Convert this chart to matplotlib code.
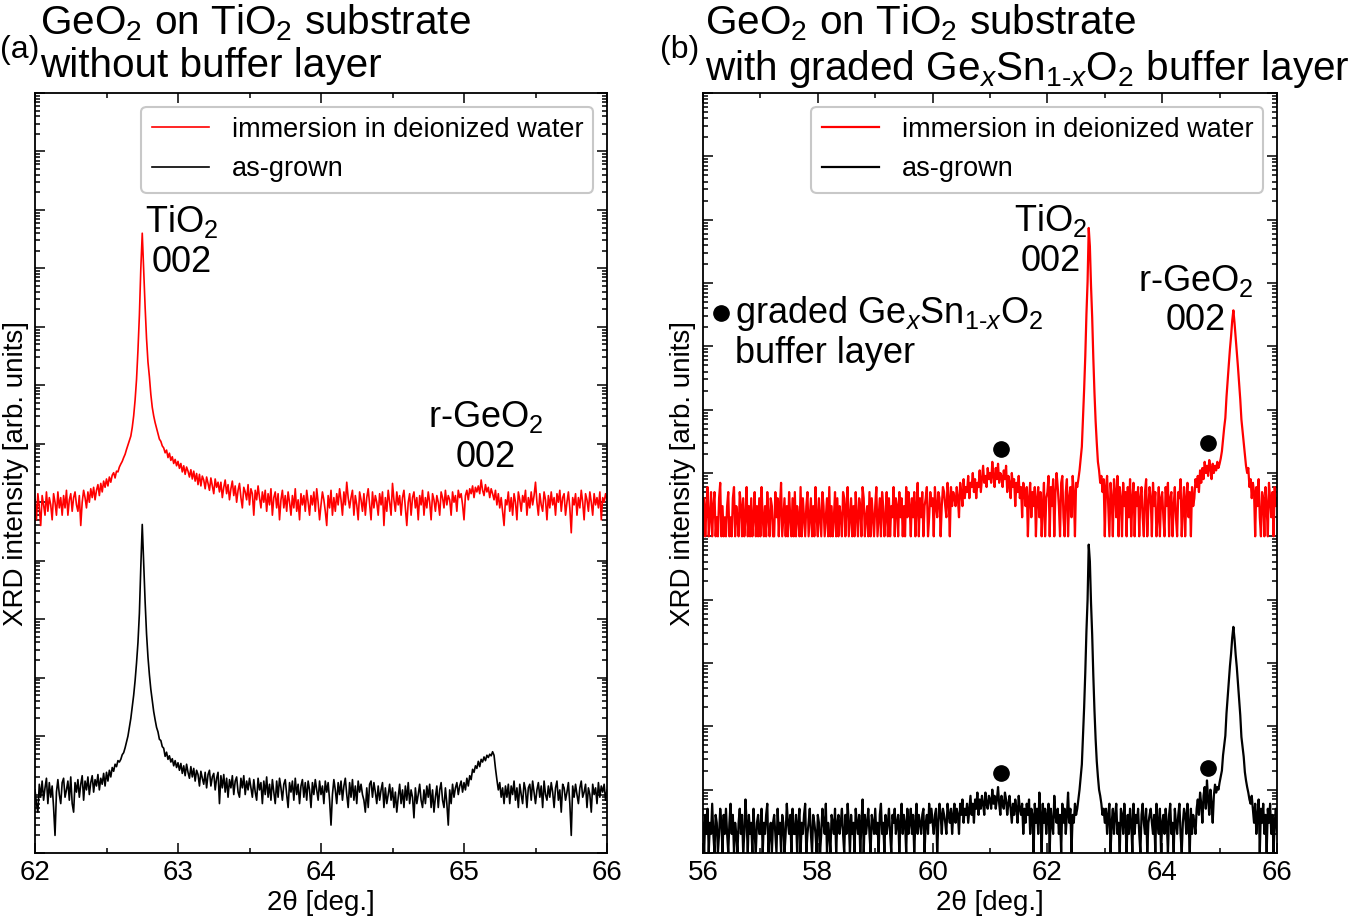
import numpy as np
import matplotlib
matplotlib.use("Agg")
import matplotlib.pyplot as plt
from matplotlib.ticker import LogLocator, NullFormatter, MultipleLocator

# ---- data (counts) ----
# (a) 2theta 62.00 ... 66.00 deg, step 0.01
as_grown_a = [
    12, 7, 5, 15, 9, 17, 8, 13, 19, 7,
    16, 9, 14, 6, 2, 11, 18, 10, 7, 16,
    19, 9, 12, 17, 8, 20, 7, 5, 16, 11,
    18, 9, 15, 21, 8, 17, 12, 20, 10, 16,
    21, 11, 18, 14, 22, 12, 19, 15, 23, 14,
    24, 17, 26, 20, 29, 25, 33, 30, 38, 36,
    40, 48, 52, 63, 79, 100, 141, 200, 316, 500,
    890, 1780, 3980, 12600, 79400, 417000, 89100, 20000, 5620, 2240,
    1120, 630, 400, 263, 190, 141, 118, 88, 84, 66,
    62, 45, 53, 40, 46, 36, 41, 31, 38, 29,
    35, 26, 34, 23, 31, 21, 33, 24, 19, 30,
    20, 28, 17, 26, 22, 14, 25, 19, 15, 24,
    13, 22, 26, 14, 20, 23, 12, 19, 24, 7,
    21, 13, 22, 11, 19, 9, 18, 13, 21, 10,
    17, 20, 11, 9, 19, 13, 21, 10, 17, 12,
    19, 13, 9, 18, 11, 8, 19, 12, 16, 7,
    17, 10, 20, 9, 15, 8, 18, 11, 7, 17,
    9, 19, 13, 8, 15, 18, 10, 6, 16, 11,
    17, 8, 19, 10, 15, 7, 14, 18, 9, 16,
    8, 17, 12, 6, 16, 10, 18, 12, 8, 17,
    10, 14, 7, 17, 11, 16, 8, 3, 10, 18,
    12, 7, 16, 10, 17, 8, 14, 19, 10, 6,
    16, 9, 18, 8, 14, 7, 17, 11, 15, 10,
    8, 5, 13, 6, 15, 17, 9, 16, 11, 7,
    14, 8, 12, 16, 6, 13, 7, 10, 15, 8,
    13, 6, 11, 5, 9, 15, 7, 12, 6, 14,
    8, 16, 7, 12, 9, 4, 13, 7, 10, 15,
    8, 6, 12, 7, 14, 9, 15, 6, 12, 5,
    9, 14, 6, 12, 16, 8, 6, 13, 7, 3,
    12, 7, 15, 9, 13, 16, 10, 14, 17, 11,
    16, 12, 19, 14, 21, 18, 27, 24, 31, 28,
    37, 30, 40, 36, 44, 38, 47, 43, 49, 46,
    54, 47, 28, 18, 12, 16, 9, 13, 7, 14,
    9, 15, 7, 14, 10, 17, 8, 13, 6, 15,
    10, 7, 16, 12, 6, 13, 15, 8, 17, 11,
    7, 12, 16, 9, 14, 6, 17, 10, 8, 14,
    9, 16, 11, 6, 13, 17, 8, 12, 5, 15,
    13, 8, 11, 16, 7, 2, 14, 9, 15, 10,
    7, 13, 17, 9, 11, 15, 6, 13, 10, 5,
    15, 10, 13, 7, 16, 9, 14, 11, 15, 8,
    12,
]

immersed_a = [
    11, 5, 14, 8, 4, 13, 9, 6, 15, 7,
    12, 9, 5, 14, 10, 6, 15, 8, 12, 6,
    13, 8, 16, 6, 11, 14, 7, 12, 15, 9,
    7, 13, 4, 10, 16, 12, 8, 15, 10, 17,
    12, 18, 11, 16, 20, 13, 21, 15, 23, 18,
    25, 19, 27, 22, 29, 32, 26, 34, 33, 40,
    45, 50, 58, 66, 80, 95, 112, 135, 190, 300,
    560, 1260, 3980, 15800, 100000, 400000, 95000, 22000, 6300, 2500,
    1400, 700, 420, 300, 230, 185, 150, 120, 110, 92,
    85, 70, 78, 58, 69, 52, 60, 46, 54, 42,
    50, 38, 46, 33, 42, 30, 40, 34, 27, 36,
    25, 34, 23, 31, 20, 30, 19, 28, 24, 17,
    27, 21, 16, 26, 19, 14, 25, 18, 22, 15,
    22, 12, 18, 24, 14, 20, 11, 17, 23, 13,
    19, 10, 16, 21, 12, 8, 18, 15, 11, 20,
    9, 17, 14, 6, 16, 11, 19, 12, 8, 15,
    10, 16, 7, 14, 9, 17, 6, 12, 15, 8,
    14, 5, 11, 16, 8, 13, 7, 15, 10, 6,
    13, 8, 17, 7, 11, 5, 14, 9, 13, 7,
    16, 10, 6, 13, 9, 15, 7, 17, 10, 5,
    9, 15, 11, 7, 4, 13, 8, 16, 6, 12,
    7, 14, 9, 17, 11, 6, 15, 9, 22, 12,
    8, 12, 16, 6, 13, 9, 5, 15, 11, 7,
    14, 6, 12, 17, 9, 5, 15, 8, 13, 10,
    6, 14, 9, 15, 4, 12, 7, 16, 10, 6,
    21, 11, 7, 15, 9, 13, 6, 12, 16, 8,
    4, 10, 14, 6, 12, 15, 8, 12, 5, 13,
    9, 16, 6, 12, 8, 15, 10, 5, 14, 11,
    7, 13, 10, 6, 15, 12, 8, 16, 9, 13,
    11, 6, 15, 10, 13, 7, 16, 12, 14, 9,
    5, 13, 16, 11, 17, 14, 19, 12, 18, 15,
    19, 14, 24, 16, 13, 20, 15, 18, 12, 17,
    14, 11, 16, 9, 14, 8, 12, 7, 4, 11,
    9, 15, 7, 12, 6, 14, 10, 5, 15, 11,
    7, 13, 10, 16, 6, 12, 8, 15, 9, 13,
    22, 10, 6, 14, 9, 7, 15, 11, 5, 13,
    8, 15, 9, 12, 6, 14, 10, 16, 7, 12,
    14, 6, 10, 15, 8, 3, 12, 9, 14, 6,
    12, 8, 16, 10, 5, 14, 11, 7, 15, 10,
    6, 14, 9, 12, 8, 15, 5, 12, 10, 14,
    11,
]

# (b) 2theta 56.00 ... 66.00 deg, step 0.02
as_grown_b = [
    3, 1, 4, 2, 5, 1, 3, 2, 6, 2,
    1, 4, 3, 1, 2, 5, 3, 1, 4, 2,
    5, 2, 1, 3, 6, 2, 4, 1, 3, 2,
    1, 3, 5, 2, 4, 1, 2, 7, 3, 1,
    4, 2, 3, 1, 5, 2, 1, 3, 4, 2,
    2, 5, 1, 3, 2, 4, 6, 1, 2, 3,
    1, 3, 4, 2, 1, 5, 2, 3, 1, 4,
    3, 1, 2, 6, 3, 2, 4, 1, 5, 2,
    2, 4, 1, 3, 5, 1, 3, 2, 4, 6,
    1, 2, 3, 5, 2, 1, 4, 3, 2, 1,
    4, 3, 1, 2, 5, 3, 2, 6, 1, 3,
    2, 1, 4, 3, 2, 5, 1, 3, 4, 2,
    3, 5, 2, 1, 4, 2, 6, 3, 1, 4,
    2, 3, 1, 5, 3, 2, 4, 1, 3, 7,
    1, 4, 2, 3, 5, 2, 1, 4, 3, 2,
    5, 2, 3, 1, 4, 6, 2, 3, 1, 4,
    2, 3, 5, 2, 1, 4, 3, 5, 2, 3,
    4, 1, 3, 6, 2, 4, 3, 1, 5, 2,
    3, 5, 2, 4, 1, 3, 6, 2, 4, 3,
    2, 4, 5, 1, 3, 4, 2, 6, 3, 5,
    3, 2, 4, 5, 1, 3, 6, 4, 2, 5,
    4, 3, 2, 6, 4, 3, 5, 2, 4, 6,
    3, 5, 4, 2, 6, 4, 7, 3, 5, 4,
    6, 3, 5, 8, 4, 6, 3, 7, 5, 9,
    4, 7, 5, 8, 6, 4, 9, 6, 5, 8,
    7, 5, 10, 6, 8, 5, 7, 11, 6, 4,
    8, 6, 5, 9, 7, 4, 6, 8, 5, 3,
    6, 4, 7, 5, 3, 8, 5, 4, 6, 2,
    5, 3, 6, 4, 7, 2, 5, 4, 1, 6,
    3, 5, 2, 9, 4, 1, 6, 3, 5, 2,
    4, 6, 1, 5, 3, 2, 8, 4, 3, 5,
    2, 4, 1, 6, 3, 5, 2, 4, 9, 3,
    5, 1, 4, 3, 6, 4, 5, 7, 10, 16,
    25, 71, 200, 710, 3160, 10000, 74000, 40000, 8900, 2820,
    630, 178, 63, 28, 16, 10, 8, 6, 4, 5,
    3, 5, 2, 4, 6, 1, 3, 5, 2, 4,
    6, 2, 3, 1, 5, 4, 2, 6, 3, 1,
    4, 2, 5, 3, 1, 6, 2, 4, 3, 5,
    2, 1, 4, 6, 3, 2, 5, 1, 3, 4,
    5, 3, 2, 4, 1, 6, 3, 2, 5, 1,
    3, 4, 2, 5, 3, 1, 4, 6, 2, 3,
    1, 5, 3, 2, 4, 6, 2, 1, 3, 5,
    4, 2, 6, 3, 1, 5, 2, 4, 3, 2,
    5, 7, 4, 9, 6, 3, 8, 11, 5, 14,
    7, 4, 10, 6, 3, 8, 12, 9, 11, 10,
    13, 16, 20, 35, 50, 71, 160, 280, 500, 890,
    1410, 2510, 3720, 2400, 1350, 850, 480, 270, 150, 68,
    48, 33, 19, 14, 11, 9, 7, 6, 8, 5,
    3, 6, 2, 4, 7, 1, 5, 3, 6, 2,
    4, 1, 5, 3, 6, 2, 4, 1, 3, 5,
    2,
]

immersed_b = [
    1, 4, 1, 3, 6, 1, 2, 5, 1, 3,
    5, 1, 2, 1, 4, 7, 1, 3, 1, 2,
    1, 3, 5, 1, 2, 1, 4, 6, 1, 3,
    2, 1, 5, 3, 1, 4, 1, 2, 6, 1,
    3, 1, 4, 1, 2, 5, 1, 3, 1, 4,
    1, 6, 2, 1, 3, 1, 5, 2, 1, 4,
    3, 1, 1, 5, 2, 4, 1, 3, 7, 1,
    2, 4, 1, 3, 1, 5, 2, 1, 4, 1,
    5, 1, 3, 2, 1, 6, 1, 4, 2, 1,
    3, 5, 1, 2, 4, 1, 3, 1, 6, 2,
    1, 4, 2, 1, 5, 3, 1, 2, 4, 1,
    6, 1, 3, 1, 2, 5, 1, 4, 1, 3,
    2, 1, 5, 4, 1, 3, 6, 1, 2, 4,
    1, 3, 1, 5, 2, 1, 4, 3, 1, 6,
    4, 1, 2, 3, 1, 5, 1, 4, 2, 1,
    3, 6, 1, 2, 4, 1, 5, 3, 1, 2,
    5, 1, 4, 1, 3, 2, 6, 1, 4, 3,
    1, 5, 2, 4, 1, 3, 1, 6, 2, 5,
    3, 1, 4, 2, 5, 1, 3, 7, 1, 4,
    2, 5, 1, 3, 4, 6, 1, 2, 5, 3,
    4, 1, 6, 3, 2, 5, 4, 1, 3, 6,
    5, 3, 2, 7, 4, 1, 6, 3, 5, 4,
    3, 6, 4, 2, 7, 5, 3, 8, 4, 6,
    5, 9, 4, 7, 6, 10, 5, 8, 4, 7,
    6, 11, 5, 8, 13, 7, 9, 6, 12, 8,
    10, 7, 15, 9, 6, 12, 8, 14, 7, 10,
    9, 6, 11, 8, 13, 5, 9, 7, 4, 10,
    6, 8, 3, 7, 5, 9, 4, 6, 2, 7,
    5, 3, 6, 1, 4, 7, 2, 5, 3, 6,
    1, 4, 6, 2, 5, 1, 3, 7, 1, 4,
    5, 9, 1, 6, 3, 8, 1, 5, 10, 6,
    3, 1, 7, 9, 2, 1, 5, 8, 1, 4,
    6, 2, 9, 5, 1, 7, 6, 8, 11, 17,
    26, 75, 210, 700, 3200, 10500, 74000, 38000, 9000, 2900,
    650, 185, 66, 30, 15, 11, 7, 9, 5, 8,
    1, 6, 9, 3, 1, 7, 4, 1, 8, 5,
    2, 9, 1, 6, 4, 1, 7, 3, 5, 1,
    6, 2, 8, 1, 4, 7, 1, 5, 3, 6,
    1, 4, 6, 2, 1, 5, 8, 1, 3, 6,
    4, 1, 7, 3, 5, 1, 2, 6, 1, 4,
    5, 2, 1, 6, 3, 7, 1, 4, 5, 1,
    3, 6, 2, 1, 5, 4, 8, 1, 3, 6,
    1, 4, 7, 2, 5, 1, 6, 3, 4, 8,
    6, 9, 5, 11, 7, 12, 8, 15, 10, 13,
    9, 16, 12, 8, 14, 10, 13, 11, 15, 12,
    14, 17, 22, 34, 52, 74, 158, 290, 510, 900,
    1450, 2550, 3700, 2350, 1380, 830, 470, 260, 145, 70,
    46, 31, 20, 13, 10, 12, 6, 8, 4, 7,
    5, 1, 6, 3, 8, 2, 1, 5, 4, 1,
    6, 3, 1, 7, 4, 2, 5, 1, 6, 3,
    4,
]

two_theta_a = np.linspace(62.0, 66.0, len(as_grown_a))
two_theta_b = np.linspace(56.0, 66.0, len(as_grown_b))

# buffer-layer peak marks in (b): 2theta, as-grown level, immersed level
buffer_marks_x = [61.2, 64.8]
buffer_marks_grown = [18, 22]
buffer_marks_immersed = [24, 30]

offset = 1e5  # vertical shift of the immersed curve

# ---- style ----
plt.rcParams["font.family"] = ["Liberation Sans", "DejaVu Sans"]
plt.rcParams["mathtext.fontset"] = "custom"
plt.rcParams["mathtext.rm"] = "Liberation Sans"
plt.rcParams["mathtext.it"] = "Liberation Sans:italic"
plt.rcParams["mathtext.default"] = "regular"

RED = "#ff0000"
TICK_FS = 20
ANN_FS = 26
TITLE_FS = 29.2

fig = plt.figure(figsize=(13.48, 9.17), dpi=100)
ax_a = fig.add_axes([35 / 1348, 64 / 917, 572 / 1348, 760 / 917])
ax_b = fig.add_axes([703 / 1348, 64 / 917, 574 / 1348, 760 / 917])


def style_axes(ax, xlim, ylim, major, minor, label_x):
    ax.set_yscale("log")
    ax.set_xlim(*xlim)
    ax.set_ylim(*ylim)
    ax.xaxis.set_major_locator(MultipleLocator(major))
    ax.xaxis.set_minor_locator(MultipleLocator(minor))
    ax.yaxis.set_major_locator(LogLocator(base=10, numticks=30))
    ax.yaxis.set_minor_locator(LogLocator(base=10, subs=np.arange(2, 10), numticks=300))
    ax.yaxis.set_major_formatter(NullFormatter())
    ax.yaxis.set_minor_formatter(NullFormatter())
    ax.tick_params(which="both", direction="in", top=True, right=True,
                   labelsize=TICK_FS, width=1.1)
    ax.tick_params(which="major", length=7, pad=5)
    ax.tick_params(which="minor", length=3.5)
    for s in ax.spines.values():
        s.set_linewidth(1.3)
    ax.set_xlabel("2θ [deg.]", fontsize=TICK_FS, labelpad=3)
    ax.set_ylabel("XRD intensity [arb. units]", fontsize=TICK_FS)
    ax.yaxis.set_label_coords(label_x, 0.5)


def add_legend(ax):
    leg = ax.legend(loc="upper right", fontsize=19.5, frameon=True, fancybox=True,
                    edgecolor="#c8c8c8", framealpha=1, borderaxespad=0.5,
                    handlelength=2.1, handletextpad=0.85, labelspacing=0.5,
                    borderpad=0.38)
    leg.get_frame().set_linewidth(1.5)


def peak_label(ax, x, y, text):
    ax.text(x, y, text, transform=ax.transAxes, fontsize=ANN_FS, ha="center",
            va="center", multialignment="center", linespacing=1.18)


# (a)
ax_a.plot(two_theta_a, np.array(immersed_a) * offset, color=RED, lw=1.2,
          label="immersion in deionized water")
ax_a.plot(two_theta_a, as_grown_a, color="black", lw=1.2, label="as-grown")
style_axes(ax_a, (62, 66), (1, 1e13), 1, 0.5, -0.010)
add_legend(ax_a)
peak_label(ax_a, 0.257, 0.805, "TiO$_2$\n002")
peak_label(ax_a, 0.788, 0.547, "r-GeO$_2$\n002")

# (b)
ax_b.plot(two_theta_b, np.array(immersed_b) * offset, color=RED, lw=1.6,
          label="immersion in deionized water")
ax_b.plot(two_theta_b, as_grown_b, color="black", lw=1.6, label="as-grown")
style_axes(ax_b, (56, 66), (1, 1e12), 2, 1, -0.012)
add_legend(ax_b)
ax_b.plot(buffer_marks_x, buffer_marks_grown, "o", color="black", ms=11, ls="none")
ax_b.plot(buffer_marks_x, np.array(buffer_marks_immersed) * offset, "o", color="black",
          ms=11, ls="none")
peak_label(ax_b, 0.606, 0.806, "TiO$_2$\n002")
peak_label(ax_b, 0.859, 0.727, "r-GeO$_2$\n002")
ax_b.plot([0.031], [0.711], "o", color="black", ms=11, transform=ax_b.transAxes)
ax_b.text(0.0557, 0.685,
          "graded Ge$_{\\mathit{x}}$Sn$_{1\\text{-}\\mathit{x}}$O$_2$\nbuffer layer",
          transform=ax_b.transAxes, fontsize=ANN_FS, ha="left", va="center",
          linespacing=1.12)

# panel titles
fig.text(0.0, 1 - 50 / 917, "(a)", fontsize=23, ha="left", va="center")
fig.text(40 / 1348, 1 - 2 / 917, "GeO$_2$ on TiO$_2$ substrate\nwithout buffer layer",
         fontsize=TITLE_FS, ha="left", va="top", linespacing=1.16)
fig.text(660 / 1348, 1 - 50 / 917, "(b)", fontsize=23, ha="left", va="center")
fig.text(705 / 1348, 1 - 2 / 917,
         "GeO$_2$ on TiO$_2$ substrate\n"
         "with graded Ge$_{\\mathit{x}}$Sn$_{1\\text{-}\\mathit{x}}$O$_2$ buffer layer",
         fontsize=TITLE_FS, ha="left", va="top", linespacing=1.16)

fig.savefig("out.png", dpi=100)
